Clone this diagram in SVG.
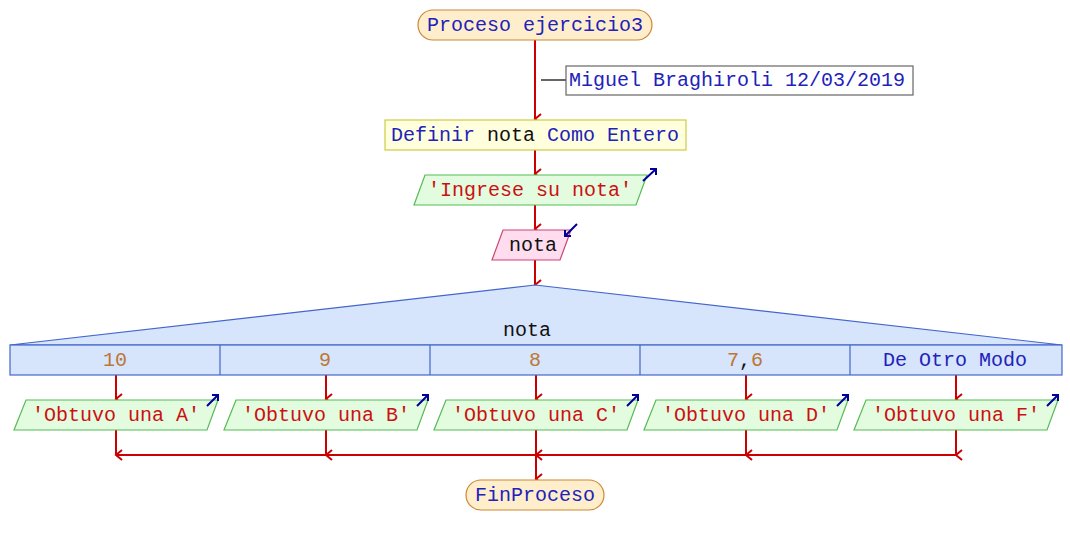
<svg xmlns="http://www.w3.org/2000/svg" width="1070" height="545" viewBox="0 0 1070 545">
<style>
text{font-family:"Liberation Mono","DejaVu Sans Mono",monospace;font-size:20px;dominant-baseline:central;text-anchor:middle}
.kw{fill:#2222bb}.str{fill:#cc1111}.num{fill:#bb7733}.id{fill:#111}
.c{stroke:#cc0000;stroke-width:2;fill:none}
.term{fill:#ffeecc;stroke:#cc8833;stroke-width:1.2}
.out{fill:#e3fce0;stroke:#55bb55;stroke-width:1.2}
.io{stroke:#000099;stroke-width:2;fill:none}
.sw{fill:#d6e4fc;stroke:#4466cc;stroke-width:1.2}
</style>
<defs>
<marker id="a" markerWidth="12" markerHeight="10" refX="6" refY="8" orient="auto" markerUnits="userSpaceOnUse" viewBox="0 0 12 10">
<path d="M1,2 L6,8 L11,2" stroke="#cc0000" stroke-width="2" fill="none"/></marker>
</defs>
<g id="connectors">
<line class="c" x1="535" y1="40" x2="535" y2="119" marker-end="url(#a)"/>
<line x1="541" y1="80" x2="566" y2="80" stroke="#666" stroke-width="2"/>
<line class="c" x1="535" y1="150" x2="535" y2="174" marker-end="url(#a)"/>
<line class="c" x1="535" y1="205" x2="535" y2="229" marker-end="url(#a)"/>
<line class="c" x1="535" y1="260" x2="535" y2="285" marker-end="url(#a)"/>
<line class="c" x1="116" y1="375" x2="116" y2="399" marker-end="url(#a)"/>
<line class="c" x1="326" y1="375" x2="326" y2="399" marker-end="url(#a)"/>
<line class="c" x1="536" y1="375" x2="536" y2="399" marker-end="url(#a)"/>
<line class="c" x1="746" y1="375" x2="746" y2="399" marker-end="url(#a)"/>
<line class="c" x1="956" y1="375" x2="956" y2="399" marker-end="url(#a)"/>
<line class="c" x1="116" y1="430" x2="116" y2="455" marker-end="url(#a)"/>
<line class="c" x1="326" y1="430" x2="326" y2="455" marker-end="url(#a)"/>
<line class="c" x1="536" y1="430" x2="536" y2="455" marker-end="url(#a)"/>
<line class="c" x1="746" y1="430" x2="746" y2="455" marker-end="url(#a)"/>
<line class="c" x1="956" y1="430" x2="956" y2="455" marker-end="url(#a)"/>
<line class="c" x1="116" y1="455" x2="956" y2="455"/>
<line class="c" x1="536" y1="455" x2="536" y2="479" marker-end="url(#a)"/>
</g>
<g id="start"><rect class="term" x="418" y="10" width="234" height="30" rx="15"/><text class="kw" x="535" y="25">Proceso ejercicio3</text></g>
<g id="comment"><rect x="566" y="66" width="347" height="29" fill="#fff" stroke="#666" stroke-width="1.2"/><text class="kw" x="737" y="80">Miguel Braghiroli 12/03/2019</text></g>
<g id="define"><rect x="385" y="120" width="301" height="30" fill="#ffffdd" stroke="#cccc44" stroke-width="1.2"/><text x="535" y="135"><tspan class="kw">Definir </tspan><tspan class="id">nota</tspan><tspan class="kw"> Como Entero</tspan></text></g>
<g id="out0"><polygon class="out" points="425,175 647,175 636,205 414,205"/><text class="str" x="530" y="190">'Ingrese su nota'</text><path class="io" d="M643,181 L656,169 M650,169 L656,169 L656,175"/></g>
<g id="in"><polygon points="503,230 571,230 560,260 492,260" fill="#ffddee" stroke="#cc4477" stroke-width="1.2"/><text class="id" x="533" y="245">nota</text><path class="io" d="M577,224 L565,236 M565,230 L565,236 L571,236"/></g>
<g id="switch">
<polygon class="sw" points="535,285 1062,345 10,345"/>
<text class="id" x="527" y="330">nota</text>
<rect class="sw" x="10" y="345" width="1052" height="30"/>
<line x1="220" y1="345" x2="220" y2="375" stroke="#4466cc" stroke-width="1.2"/>
<line x1="430" y1="345" x2="430" y2="375" stroke="#4466cc" stroke-width="1.2"/>
<line x1="640" y1="345" x2="640" y2="375" stroke="#4466cc" stroke-width="1.2"/>
<line x1="850" y1="345" x2="850" y2="375" stroke="#4466cc" stroke-width="1.2"/>
<text class="num" x="115" y="360">10</text>
<text class="num" x="325" y="360">9</text>
<text class="num" x="535" y="360">8</text>
<text class="num" x="745" y="360">7<tspan class="id">,</tspan>6</text>
<text class="kw" x="955" y="360">De Otro Modo</text>
</g>
<g id="outA"><polygon class="out" points="26,400 218,400 207,430 14,430"/><text class="str" x="116" y="415">'Obtuvo una A'</text><path class="io" d="M207,406 L218,395 M212,395 L218,395 L218,401"/></g>
<g id="outB"><polygon class="out" points="236,400 428,400 417,430 224,430"/><text class="str" x="326" y="415">'Obtuvo una B'</text><path class="io" d="M417,406 L428,395 M422,395 L428,395 L428,401"/></g>
<g id="outC"><polygon class="out" points="446,400 638,400 627,430 434,430"/><text class="str" x="536" y="415">'Obtuvo una C'</text><path class="io" d="M627,406 L638,395 M632,395 L638,395 L638,401"/></g>
<g id="outD"><polygon class="out" points="656,400 848,400 837,430 644,430"/><text class="str" x="746" y="415">'Obtuvo una D'</text><path class="io" d="M837,406 L848,395 M842,395 L848,395 L848,401"/></g>
<g id="outF"><polygon class="out" points="866,400 1058,400 1047,430 854,430"/><text class="str" x="956" y="415">'Obtuvo una F'</text><path class="io" d="M1047,406 L1058,395 M1052,395 L1058,395 L1058,401"/></g>
<g id="end"><rect class="term" x="466" y="480" width="138" height="30" rx="15"/><text class="kw" x="535" y="495">FinProceso</text></g>
</svg>
